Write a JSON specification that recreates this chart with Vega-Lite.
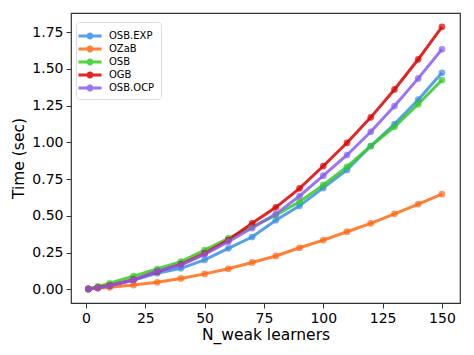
{
  "$schema": "https://vega.github.io/schema/vega-lite/v6.json",
  "width": 389,
  "height": 290,
  "autosize": {"type": "none"},
  "padding": {"left": 71, "top": 13, "right": 14, "bottom": 52},
  "background": "white",
  "config": {
    "font": "DejaVu Sans",
    "view": {"stroke": "#333333", "strokeWidth": 1.2},
    "axis": {
      "grid": false,
      "domain": false,
      "tickColor": "#333333",
      "tickSize": 5,
      "labelFontSize": 14,
      "labelColor": "black",
      "titleFontSize": 15.5,
      "titleFontWeight": "normal",
      "titleColor": "black",
      "labelPadding": 3
    }
  },
  "data": {
    "values": [
      {"n": 1, "method": "OSB.EXP", "time": 0.003},
      {"n": 5, "method": "OSB.EXP", "time": 0.01},
      {"n": 10, "method": "OSB.EXP", "time": 0.022},
      {"n": 20, "method": "OSB.EXP", "time": 0.062},
      {"n": 30, "method": "OSB.EXP", "time": 0.11},
      {"n": 40, "method": "OSB.EXP", "time": 0.143},
      {"n": 50, "method": "OSB.EXP", "time": 0.2},
      {"n": 60, "method": "OSB.EXP", "time": 0.279},
      {"n": 70, "method": "OSB.EXP", "time": 0.356},
      {"n": 80, "method": "OSB.EXP", "time": 0.47},
      {"n": 90, "method": "OSB.EXP", "time": 0.568},
      {"n": 100, "method": "OSB.EXP", "time": 0.69},
      {"n": 110, "method": "OSB.EXP", "time": 0.812},
      {"n": 120, "method": "OSB.EXP", "time": 0.975},
      {"n": 130, "method": "OSB.EXP", "time": 1.124},
      {"n": 140, "method": "OSB.EXP", "time": 1.29},
      {"n": 150, "method": "OSB.EXP", "time": 1.473},
      {"n": 1, "method": "OZaB", "time": 0.002},
      {"n": 5, "method": "OZaB", "time": 0.007},
      {"n": 10, "method": "OZaB", "time": 0.014},
      {"n": 20, "method": "OZaB", "time": 0.029},
      {"n": 30, "method": "OZaB", "time": 0.048},
      {"n": 40, "method": "OZaB", "time": 0.074},
      {"n": 50, "method": "OZaB", "time": 0.105},
      {"n": 60, "method": "OZaB", "time": 0.14},
      {"n": 70, "method": "OZaB", "time": 0.183},
      {"n": 80, "method": "OZaB", "time": 0.227},
      {"n": 90, "method": "OZaB", "time": 0.283},
      {"n": 100, "method": "OZaB", "time": 0.335},
      {"n": 110, "method": "OZaB", "time": 0.392},
      {"n": 120, "method": "OZaB", "time": 0.449},
      {"n": 130, "method": "OZaB", "time": 0.514},
      {"n": 140, "method": "OZaB", "time": 0.58},
      {"n": 150, "method": "OZaB", "time": 0.648},
      {"n": 1, "method": "OSB", "time": 0.003},
      {"n": 5, "method": "OSB", "time": 0.02},
      {"n": 10, "method": "OSB", "time": 0.041},
      {"n": 20, "method": "OSB", "time": 0.09},
      {"n": 30, "method": "OSB", "time": 0.138},
      {"n": 40, "method": "OSB", "time": 0.188},
      {"n": 50, "method": "OSB", "time": 0.267},
      {"n": 60, "method": "OSB", "time": 0.347},
      {"n": 70, "method": "OSB", "time": 0.425},
      {"n": 80, "method": "OSB", "time": 0.505},
      {"n": 90, "method": "OSB", "time": 0.596},
      {"n": 100, "method": "OSB", "time": 0.71},
      {"n": 110, "method": "OSB", "time": 0.834},
      {"n": 120, "method": "OSB", "time": 0.975},
      {"n": 130, "method": "OSB", "time": 1.106},
      {"n": 140, "method": "OSB", "time": 1.26},
      {"n": 150, "method": "OSB", "time": 1.424},
      {"n": 1, "method": "OGB", "time": 0.003},
      {"n": 5, "method": "OGB", "time": 0.012},
      {"n": 10, "method": "OGB", "time": 0.026},
      {"n": 20, "method": "OGB", "time": 0.066},
      {"n": 30, "method": "OGB", "time": 0.12},
      {"n": 40, "method": "OGB", "time": 0.17},
      {"n": 50, "method": "OGB", "time": 0.245},
      {"n": 60, "method": "OGB", "time": 0.335},
      {"n": 70, "method": "OGB", "time": 0.449},
      {"n": 80, "method": "OGB", "time": 0.558},
      {"n": 90, "method": "OGB", "time": 0.687},
      {"n": 100, "method": "OGB", "time": 0.839},
      {"n": 110, "method": "OGB", "time": 0.997},
      {"n": 120, "method": "OGB", "time": 1.17},
      {"n": 130, "method": "OGB", "time": 1.36},
      {"n": 140, "method": "OGB", "time": 1.565},
      {"n": 150, "method": "OGB", "time": 1.786},
      {"n": 1, "method": "OSB.OCP", "time": 0.003},
      {"n": 5, "method": "OSB.OCP", "time": 0.01},
      {"n": 10, "method": "OSB.OCP", "time": 0.024},
      {"n": 20, "method": "OSB.OCP", "time": 0.063},
      {"n": 30, "method": "OSB.OCP", "time": 0.124},
      {"n": 40, "method": "OSB.OCP", "time": 0.165},
      {"n": 50, "method": "OSB.OCP", "time": 0.238},
      {"n": 60, "method": "OSB.OCP", "time": 0.324},
      {"n": 70, "method": "OSB.OCP", "time": 0.417},
      {"n": 80, "method": "OSB.OCP", "time": 0.512},
      {"n": 90, "method": "OSB.OCP", "time": 0.635},
      {"n": 100, "method": "OSB.OCP", "time": 0.773},
      {"n": 110, "method": "OSB.OCP", "time": 0.914},
      {"n": 120, "method": "OSB.OCP", "time": 1.072},
      {"n": 130, "method": "OSB.OCP", "time": 1.247},
      {"n": 140, "method": "OSB.OCP", "time": 1.435},
      {"n": 150, "method": "OSB.OCP", "time": 1.633}
    ]
  },
  "encoding": {
    "x": {
      "field": "n",
      "type": "quantitative",
      "scale": {"domain": [-6.3, 157.6], "nice": false, "zero": false},
      "axis": {"values": [0, 25, 50, 75, 100, 125, 150], "title": "N_weak learners", "titlePadding": 2}
    },
    "y": {
      "field": "time",
      "type": "quantitative",
      "scale": {"domain": [-0.093, 1.88], "nice": false, "zero": false},
      "axis": {"values": [0, 0.25, 0.5, 0.75, 1, 1.25, 1.5, 1.75], "format": ".2f", "title": "Time (sec)", "titlePadding": 5}
    },
    "color": {
      "field": "method",
      "type": "nominal",
      "sort": ["OSB.EXP", "OZaB", "OSB", "OGB", "OSB.OCP"],
      "scale": {
        "domain": ["OSB.EXP", "OZaB", "OSB", "OGB", "OSB.OCP"],
        "range": ["#3a8ee6", "#ff6a14", "#33cc22", "#dd0000", "#8a5cf5"]
      },
      "legend": {
        "title": null,
        "orient": "none",
        "legendX": 5,
        "legendY": 9,
        "fillColor": "white",
        "strokeColor": "#dddddd",
        "cornerRadius": 3,
        "padding": 6,
        "labelFontSize": 10,
        "labelColor": "black",
        "symbolType": "M-1.5,-0.2H1.5V0.2H-1.5Z M-0.45,0A0.45,0.45 0 1,1 0.45,0A0.45,0.45 0 1,1 -0.45,0Z",
        "symbolSize": 236,
        "symbolStrokeWidth": 0,
        "symbolOpacity": 0.85,
        "rowPadding": 0,
        "labelOffset": 11
      }
    },
    "detail": {"field": "method"}
  },
  "layer": [
    {"mark": {"type": "line", "strokeWidth": 3, "opacity": 0.85}},
    {"mark": {"type": "circle", "size": 45, "opacity": 0.7}}
  ]
}
